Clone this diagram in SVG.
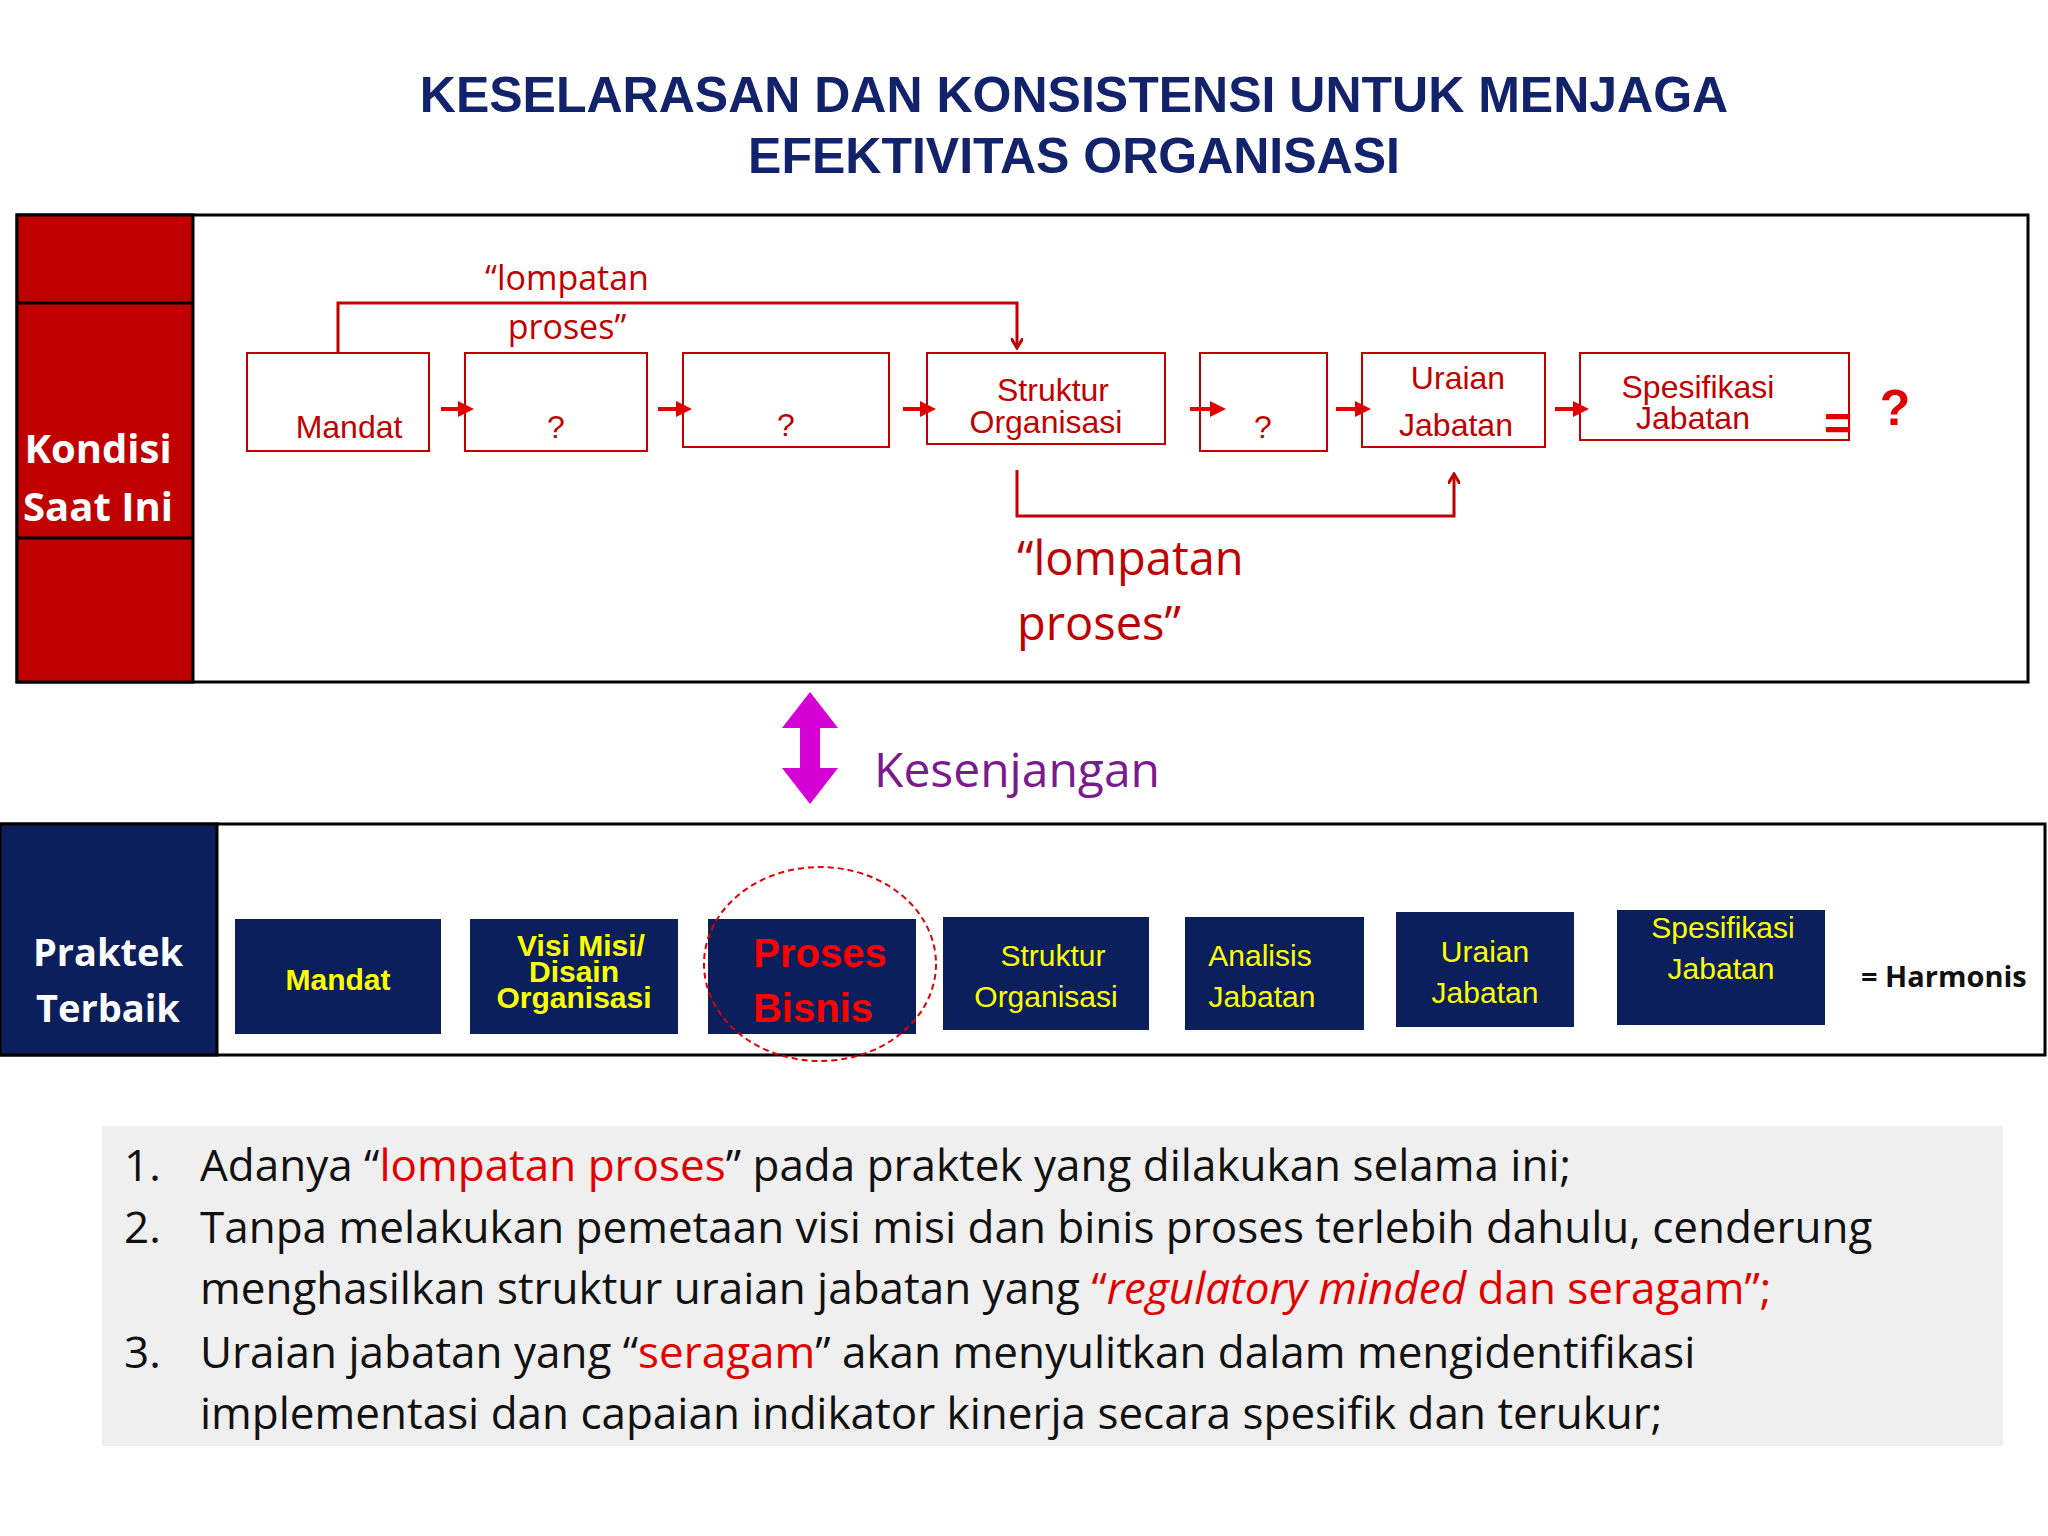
<svg xmlns="http://www.w3.org/2000/svg" width="2048" height="1536" viewBox="0 0 2048 1536">
<defs>
<style>
.t{font-family:"Liberation Sans",Arial,sans-serif}
.o{font-family:"Open Sans","Noto Sans",sans-serif}
.rb{fill:#fff;stroke:#c00000;stroke-width:2}
.rt{font-family:"Liberation Sans",Arial,sans-serif;font-size:32px;fill:#c00000;text-anchor:middle}
.nb{fill:#0a1f5c}
.yt{font-family:"Liberation Sans",Arial,sans-serif;font-size:30px;fill:#ffff00;text-anchor:middle}
.ra{stroke:#e00000;stroke-width:4;marker-end:url(#ar)}
.ga{stroke:#3a7a1a;stroke-width:4;marker-end:url(#ag)}
.br{fill:none;stroke:#c00000;stroke-width:3}
.li{font-family:"Open Sans","Noto Sans",sans-serif;font-size:44px;fill:#111}
.red{fill:#e00000}
</style>
<marker id="ar" markerWidth="4" markerHeight="4" refX="3" refY="2" orient="auto"><path d="M0,0L4,2L0,4z" fill="#e00000"/></marker>
<marker id="ag" markerWidth="4" markerHeight="4" refX="3" refY="2" orient="auto"><path d="M0,0L4,2L0,4z" fill="#3a7a1a"/></marker>
<marker id="ao" markerWidth="12" markerHeight="12" refX="10" refY="6" orient="auto" markerUnits="userSpaceOnUse"><path d="M0,0L10,6L0,12" fill="none" stroke="#c00000" stroke-width="3"/></marker>
</defs>
<rect width="2048" height="1536" fill="#fff"/>
<g id="title" class="t" font-size="50" font-weight="bold" fill="#12226b" text-anchor="middle">
<text x="1074" y="112">KESELARASAN DAN KONSISTENSI UNTUK MENJAGA</text>
<text x="1074" y="173">EFEKTIVITAS ORGANISASI</text>
</g>
<g id="kondisi">
<rect x="17" y="215" width="2011" height="467" fill="#fff" stroke="#000" stroke-width="3"/>
<rect x="17" y="215" width="176" height="467" fill="#c00000" stroke="#000" stroke-width="3"/>
<line x1="17" y1="303" x2="193" y2="303" stroke="#000" stroke-width="3"/>
<line x1="17" y1="538" x2="193" y2="538" stroke="#000" stroke-width="3"/>
<text class="o" x="98" y="463" font-size="40" font-weight="bold" fill="#fff" text-anchor="middle">Kondisi</text>
<text class="o" x="98" y="521" font-size="40" font-weight="bold" fill="#fff" text-anchor="middle">Saat  Ini</text>
</g>
<g id="k1"><rect class="rb" x="247" y="353" width="182" height="98"/><text class="rt" x="349" y="438">Mandat</text></g>
<g id="k2"><rect class="rb" x="465" y="353" width="182" height="98"/><text class="rt" x="556" y="438">?</text></g>
<g id="k3"><rect class="rb" x="683" y="353" width="206" height="94"/><text class="rt" x="786" y="436">?</text></g>
<g id="k4"><rect class="rb" x="927" y="353" width="238" height="91"/><text class="rt" x="1053" y="401">Struktur</text><text class="rt" x="1046" y="433">Organisasi</text></g>
<g id="k5"><rect class="rb" x="1200" y="353" width="127" height="98"/><text class="rt" x="1263" y="438">?</text></g>
<g id="k6"><rect class="rb" x="1362" y="353" width="183" height="94"/><text class="rt" x="1458" y="389">Uraian</text><text class="rt" x="1456" y="436">Jabatan</text></g>
<g id="k7"><rect class="rb" x="1580" y="353" width="269" height="87"/><text class="rt" x="1698" y="398">Spesifikasi</text><text class="rt" x="1693" y="429">Jabatan</text></g>
<g id="kx" class="t" fill="#e00000" font-weight="bold"><text x="1838" y="440" font-size="48" text-anchor="middle">=</text><text x="1895" y="425" font-size="50" text-anchor="middle">?</text></g>
<g id="lbl" class="o" fill="#c00000">
<text x="567" y="290" font-size="34" text-anchor="middle">“lompatan</text>
<text x="567" y="339" font-size="34" text-anchor="middle">proses”</text>
<text x="1017" y="575" font-size="47">“lompatan</text>
<text x="1017" y="640" font-size="47">proses”</text>
</g>
<g id="connectors">
<line class="ra" x1="441" y1="409" x2="470" y2="409"/>
<line class="ra" x1="658" y1="409" x2="688" y2="409"/>
<line class="ra" x1="903" y1="409" x2="932" y2="409"/>
<line class="ra" x1="1190" y1="409" x2="1222" y2="409"/>
<line class="ra" x1="1336" y1="409" x2="1367" y2="409"/>
<line class="ra" x1="1555" y1="409" x2="1585" y2="409"/>
<path class="br" d="M338,353V303H1017V348" marker-end="url(#ao)"/>
<path class="br" d="M1017,470V516H1454V474" marker-end="url(#ao)"/>
<line class="ga" x1="441" y1="985" x2="466" y2="985"/>
<line class="ga" x1="680" y1="985" x2="704" y2="985"/>
<line class="ga" x1="918" y1="985" x2="940" y2="985"/>
<line class="ga" x1="1153" y1="970" x2="1181" y2="970"/>
<line class="ga" x1="1366" y1="970" x2="1392" y2="970"/>
<line class="ga" x1="1535" y1="962" x2="1562" y2="962"/>
<line class="ga" x1="1585" y1="970" x2="1613" y2="970"/>
</g>
<g id="gap">
<path d="M810,692L782,728H800V768H782L810,804L838,768H820V728H838Z" fill="#d400d4"/>
<text class="o" x="874" y="787" font-size="48" fill="#7b1a8c">Kesenjangan</text>
</g>
<g id="praktek">
<rect x="0" y="824" width="2045" height="231" fill="#fff" stroke="#000" stroke-width="3"/>
<rect x="0" y="824" width="217" height="231" class="nb" stroke="#000" stroke-width="3"/>
<text class="o" x="108" y="966" font-size="38" font-weight="bold" fill="#fff" text-anchor="middle">Praktek</text>
<text class="o" x="108" y="1022" font-size="38" font-weight="bold" fill="#fff" text-anchor="middle">Terbaik</text>
</g>
<g id="p1"><rect class="nb" x="235" y="919" width="206" height="115"/><text class="yt" x="338" y="990" font-weight="bold">Mandat</text></g>
<g id="p2"><rect class="nb" x="470" y="919" width="208" height="115"/><text class="yt" x="581" y="956" font-weight="bold">Visi Misi/</text><text class="yt" x="574" y="982" font-weight="bold">Disain</text><text class="yt" x="574" y="1008" font-weight="bold">Organisasi</text></g>
<g id="p3"><rect class="nb" x="708" y="919" width="208" height="115"/><text x="820" y="967" font-size="40" font-weight="bold" fill="#ff0000" text-anchor="middle" class="t">Proses</text><text x="813" y="1022" font-size="40" font-weight="bold" fill="#ff0000" text-anchor="middle" class="t">Bisnis</text>
<ellipse cx="820" cy="964" rx="116" ry="97" fill="none" stroke="#e00000" stroke-width="2" stroke-dasharray="6,4"/></g>
<g id="p4"><rect class="nb" x="943" y="917" width="206" height="113"/><text class="yt" x="1053" y="966">Struktur</text><text class="yt" x="1046" y="1007">Organisasi</text></g>
<g id="p5"><rect class="nb" x="1185" y="917" width="179" height="113"/><text class="yt" x="1260" y="966">Analisis</text><text class="yt" x="1262" y="1007">Jabatan</text></g>
<g id="p6"><rect class="nb" x="1396" y="912" width="178" height="115"/><text class="yt" x="1485" y="962">Uraian</text><text class="yt" x="1485" y="1003">Jabatan</text></g>
<g id="p7"><rect class="nb" x="1617" y="910" width="208" height="115"/><text class="yt" x="1723" y="938">Spesifikasi</text><text class="yt" x="1721" y="979">Jabatan</text></g>
<text class="o" x="1861" y="987" font-size="29" font-weight="bold" fill="#111">=  Harmonis</text>
<g id="notes">
<rect x="102" y="1126" width="1901" height="320" fill="#efefef"/>
<text class="li" x="124" y="1181">1.</text>
<text class="li" x="200" y="1181">Adanya “<tspan class="red">lompatan proses</tspan>” pada praktek yang dilakukan selama ini;</text>
<text class="li" x="124" y="1243">2.</text>
<text class="li" x="200" y="1243">Tanpa melakukan pemetaan visi misi dan binis proses terlebih dahulu, cenderung</text>
<text class="li" x="200" y="1304">menghasilkan struktur uraian jabatan yang <tspan class="red">“<tspan font-style="italic">regulatory minded</tspan> dan seragam”;</tspan></text>
<text class="li" x="124" y="1368">3.</text>
<text class="li" x="200" y="1368">Uraian jabatan yang “<tspan class="red">seragam</tspan>” akan menyulitkan dalam mengidentifikasi</text>
<text class="li" x="200" y="1429">implementasi dan capaian indikator kinerja secara spesifik dan terukur;</text>
</g>
</svg>
